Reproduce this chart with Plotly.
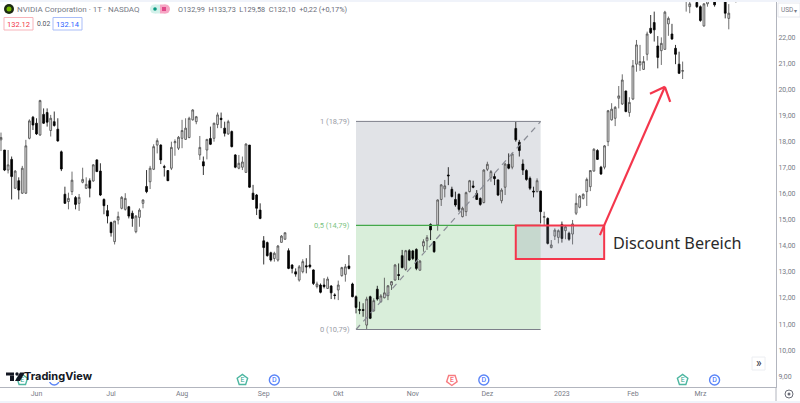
import plotly.graph_objects as go

# daily candles (index 0 = first visible bar, late May 2022)
opens = [18.08, 17.69, 16.92, 17.33, 16.22, 16.51, 16.03, 16.03, 18.14, 18.95,
         18.72, 18.27, 19.06, 19.13, 18.44, 18.78, 18.49, 17.62, 15.99, 15.71,
         16.09, 15.86, 15.64, 16.45, 16.22, 16.51, 16.5, 17.31, 16.88, 15.79,
         15.36, 14.9, 14.17, 15.0, 15.45, 15.41, 15.51, 15.26, 14.55, 15.1,
         15.64, 16.29, 16.47, 16.95, 17.88, 17.88, 17.05, 16.9, 16.99, 17.97,
         17.76, 18.14, 18.1, 18.17, 18.85, 18.78, 17.5, 17.24, 17.69, 18.13,
         18.14, 18.67, 18.91, 18.53, 18.31, 18.4, 17.5, 16.99, 17.03, 16.83,
         17.88, 16.03, 15.96, 15.38, 14.2, 14.13, 13.74, 13.52, 13.46, 14.14,
         14.26, 13.82, 13.27, 13.01, 12.69, 13.01, 13.24, 13.27, 13.08, 12.44,
         12.5, 12.5, 12.37, 12.46, 12.12, 12.31, 12.86, 12.91, 13.23, 12.54,
         12.05, 11.56, 11.56, 10.96, 12.05, 11.51, 12.34, 11.86, 12.01, 12.09,
         12.5, 12.69, 12.9, 13.63, 13.1, 13.82, 13.81, 13.87, 13.07, 14.0,
         14.2, 14.83, 14.17, 14.81, 15.79, 16.2, 16.73, 16.18, 15.79, 15.99,
         15.13, 15.32, 16.09, 16.31, 16.02, 15.83, 15.67, 16.95, 16.63, 16.67,
         16.54, 15.74, 16.26, 17.14, 17.03, 18.52, 17.99, 17.15, 16.9, 16.6,
         16.11, 16.09, 16.11, 15.1, 15.06, 13.94, 14.38, 14.33, 14.83, 14.59,
         14.49, 14.46, 15.26, 15.49, 15.83, 16.09, 16.28, 16.88, 17.67, 17.03,
         17.03, 18.01, 18.85, 18.91, 19.68, 19.46, 19.96, 19.13, 19.65, 20.99,
         20.96, 20.79, 21.37, 22.37, 22.59, 21.69, 21.51, 21.56, 22.54, 22.15,
         21.6, 20.99, 20.72, 23.6, 23.2, 23.7, 23.36, 23.2, 22.46, 23.31,
         24.0, 23.7, 23.6, 23.42, 23.4, 22.75, 23.7, 23.55]
highs = [18.36, 17.69, 17.69, 17.44, 16.92, 16.64, 17.08, 18.08, 18.87, 19.0,
         18.91, 19.62, 19.29, 19.29, 19.04, 19.17, 18.91, 17.67, 16.28, 16.05,
         16.86, 15.92, 16.0, 17.01, 16.64, 16.6, 17.15, 17.33, 17.18, 15.83,
         15.58, 14.94, 14.96, 15.32, 15.92, 16.03, 15.54, 15.36, 15.19, 15.45,
         15.79, 16.92, 17.08, 17.91, 18.14, 17.91, 17.12, 16.92, 18.01, 18.1,
         18.23, 18.85, 18.91, 18.97, 19.26, 19.0, 18.23, 17.44, 18.1, 18.59,
         18.74, 19.13, 19.13, 18.78, 18.85, 18.44, 17.53, 17.5, 17.44, 17.95,
         17.88, 16.35, 16.0, 15.64, 14.38, 14.17, 13.78, 13.78, 14.04, 14.42,
         14.52, 13.91, 13.3, 13.14, 13.27, 13.49, 13.53, 14.04, 13.1, 12.63,
         12.56, 12.76, 12.82, 12.5, 12.18, 12.67, 13.2, 13.31, 13.65, 12.59,
         12.1, 11.86, 11.8, 12.05, 12.09, 11.99, 12.47, 12.15, 12.78, 12.5,
         12.65, 13.31, 13.33, 13.85, 13.85, 13.88, 13.85, 13.91, 13.46, 14.26,
         14.42, 14.87, 14.19, 15.79, 16.38, 16.54, 17.03, 16.28, 16.09, 16.02,
         15.51, 16.09, 16.54, 16.51, 16.15, 15.87, 16.95, 17.24, 16.92, 16.79,
         16.56, 16.22, 17.2, 17.56, 17.59, 18.78, 18.08, 17.33, 16.95, 16.67,
         16.28, 16.6, 16.13, 15.32, 15.1, 14.23, 14.68, 14.64, 14.94, 14.81,
         14.55, 15.0, 16.02, 15.96, 16.02, 16.63, 16.92, 17.76, 17.72, 17.08,
         17.88, 19.23, 19.49, 19.38, 20.15, 20.6, 19.97, 19.72, 21.15, 21.92,
         21.73, 21.3, 22.24, 22.88, 23.01, 22.07, 22.02, 23.04, 22.82, 22.54,
         21.73, 21.47, 21.09, 23.9, 23.5, 24.3, 23.6, 23.25, 23.33, 23.8,
         24.2, 23.9, 24.0, 23.8, 23.5, 23.3, 24.0, 23.9]
lows = [17.65, 16.88, 16.79, 15.79, 16.2, 15.79, 16.0, 16.0, 18.1, 18.46,
        18.27, 18.23, 18.69, 18.59, 18.21, 18.59, 18.01, 16.88, 15.62, 15.41,
        15.96, 15.41, 15.35, 16.41, 16.19, 15.87, 16.47, 16.85, 15.92, 15.22,
        14.87, 14.36, 14.06, 14.83, 15.41, 15.36, 15.06, 14.74, 14.49, 14.74,
        15.45, 16.03, 16.19, 16.92, 17.56, 17.15, 16.67, 16.5, 16.92, 17.47,
        17.69, 17.76, 18.08, 18.14, 18.82, 18.68, 17.31, 16.73, 17.33, 17.88,
        18.01, 18.53, 18.53, 18.21, 18.27, 17.79, 16.99, 16.95, 16.92, 16.82,
        16.24, 15.77, 15.19, 15.03, 13.29, 13.59, 13.4, 13.4, 13.4, 14.13,
        14.24, 13.11, 12.95, 12.82, 12.63, 12.95, 12.95, 13.14, 12.5, 12.37,
        12.18, 12.37, 12.35, 11.96, 11.95, 11.92, 12.82, 12.63, 13.1, 12.03,
        11.41, 11.38, 11.28, 10.81, 11.19, 11.47, 11.9, 11.82, 11.99, 11.92,
        12.31, 12.67, 12.69, 13.14, 13.05, 13.42, 13.46, 13.07, 13.05, 13.78,
        13.85, 14.23, 13.74, 14.59, 15.54, 15.87, 16.34, 15.87, 15.51, 15.32,
        15.1, 15.15, 16.06, 16.22, 15.77, 15.55, 15.64, 16.88, 16.47, 16.34,
        15.92, 15.64, 15.96, 16.95, 16.95, 18.01, 17.44, 16.73, 16.51, 16.15,
        15.87, 16.06, 14.87, 14.81, 14.06, 13.91, 14.23, 14.1, 14.13, 14.26,
        14.2, 14.06, 15.19, 15.45, 15.79, 15.54, 16.11, 16.86, 17.31, 16.73,
        16.95, 17.84, 18.82, 18.61, 19.29, 19.42, 19.14, 18.97, 19.61, 20.7,
        20.73, 20.77, 21.13, 22.15, 21.86, 20.83, 20.96, 21.54, 22.08, 21.92,
        20.99, 20.61, 20.42, 23.01, 22.95, 23.55, 23.15, 22.62, 22.43, 23.2,
        23.55, 23.2, 23.5, 23.38, 22.75, 22.33, 23.55, 23.36]
closes = [18.17, 16.92, 17.12, 16.67, 16.88, 16.15, 16.99, 17.85, 18.81, 18.65,
          18.31, 19.59, 18.72, 18.76, 18.91, 18.63, 18.04, 16.96, 15.64, 15.83,
          16.53, 15.6, 15.87, 16.56, 16.37, 16.22, 17.12, 16.86, 15.96, 15.55,
          15.15, 14.51, 14.96, 15.13, 15.87, 15.83, 15.15, 15.06, 15.15, 15.38,
          15.77, 16.09, 16.99, 17.82, 18.05, 17.31, 17.03, 16.51, 17.79, 18.01,
          18.18, 18.44, 18.53, 18.91, 19.23, 18.97, 17.79, 17.08, 18.1, 17.91,
          18.72, 19.04, 18.86, 18.33, 18.78, 17.82, 17.03, 17.18, 17.23, 17.92,
          16.26, 15.79, 15.45, 15.06, 13.94, 13.63, 13.46, 13.72, 14.0, 14.38,
          14.51, 13.14, 13.14, 12.92, 13.2, 13.4, 13.2, 13.2, 12.56, 12.54,
          12.22, 12.44, 12.73, 12.2, 12.1, 12.5, 13.17, 13.2, 13.14, 12.05,
          11.64, 11.53, 11.52, 11.96, 11.22, 11.9, 11.96, 12.08, 12.2, 12.47,
          12.63, 13.27, 12.87, 13.17, 13.82, 13.46, 13.52, 13.14, 13.42, 14.17,
          14.32, 14.62, 13.78, 15.77, 16.35, 16.31, 16.7, 15.9, 15.58, 15.41,
          15.45, 16.05, 16.51, 16.26, 15.79, 15.6, 16.92, 17.14, 16.86, 16.59,
          15.96, 16.15, 17.15, 16.99, 17.54, 18.08, 17.67, 16.92, 16.56, 16.22,
          16.08, 16.51, 15.32, 15.13, 14.1, 14.04, 14.61, 14.59, 14.29, 14.74,
          14.26, 14.85, 15.64, 15.92, 15.99, 16.56, 16.9, 17.72, 17.33, 16.77,
          17.85, 19.2, 19.26, 19.33, 19.77, 20.38, 19.17, 19.52, 20.93, 21.73,
          21.09, 21.09, 22.15, 22.2, 22.31, 21.25, 21.79, 22.99, 22.75, 21.96,
          21.37, 20.64, 20.74, 23.7, 23.31, 24.1, 23.2, 22.67, 23.31, 23.6,
          23.7, 23.27, 23.9, 23.6, 22.95, 22.95, 23.9, 23.7]
bars = list(range(len(opens)))

month_pos = [10, 31, 51, 74, 95, 116, 137, 158, 178, 197]
month_labels = ["Jun", "Jul", "Aug", "Sep", "Okt", "Nov", "Dez", "2023", "Feb", "Mrz"]
price_ticks = [9, 10, 11, 12, 13, 14, 15, 16, 17, 18, 19, 20, 21, 22]

# dividends / earnings flags along the bottom
earn_up_pos = [6, 68, 192]
earn_down_pos = [127]
div_pos = [15, 77, 136, 201]
flag_price = 8.85

# fib tool
fib_start, fib_end = 100, 152
fib_top, fib_mid, fib_low = 18.79, 14.79, 10.79

W, H = 800, 403
plot_right, plot_top, plot_bottom = 776, 2, 387


def px(x):
    return x / plot_right


def py(y):
    return (plot_bottom - y) / (plot_bottom - plot_top)


def box(x0, y0, x1, y1, **kw):
    return dict(type="rect", xref="paper", yref="paper", x0=px(x0), x1=px(x1),
                y0=py(y0), y1=py(y1), **kw)


def circle(x, y, r, **kw):
    return dict(type="circle", xref="paper", yref="paper", x0=px(x - r), x1=px(x + r),
                y0=py(y - r), y1=py(y + r), **kw)


def label(x, y, text, size=8, color="#787b86", anchor="left", family="Roboto"):
    return dict(x=px(x), y=py(y), xref="paper", yref="paper", text=text, showarrow=False,
                xanchor=anchor, yanchor="middle", font=dict(size=size, color=color, family=family))


nothing = dict(width=0)
red = "#f4364c"
shapes = [
    # fib areas + lines
    dict(type="rect", x0=fib_start, x1=fib_end, y0=fib_mid, y1=fib_top, layer="below",
         fillcolor="#e1e3e7", line=nothing),
    dict(type="rect", x0=fib_start, x1=fib_end, y0=fib_low, y1=fib_mid, layer="below",
         fillcolor="#d9eeda", line=nothing),
    dict(type="line", x0=fib_start, x1=fib_end, y0=fib_top, y1=fib_top, line=dict(color="#7d7f8a", width=1)),
    dict(type="line", x0=fib_start, x1=fib_end, y0=fib_mid, y1=fib_mid, line=dict(color="#43a84a", width=1.2)),
    dict(type="line", x0=fib_start, x1=fib_end, y0=fib_low, y1=fib_low, line=dict(color="#7d7f8a", width=1)),
    dict(type="line", x0=fib_start, x1=fib_end, y0=fib_low, y1=fib_top,
         line=dict(color="#8a8d96", width=1.2, dash="6px,5px")),
    # discount box and arrow
    dict(type="rect", x0=145, x1=169.9, y0=13.5, y1=14.79, fillcolor="rgba(130,140,165,0.22)",
         line=dict(color=red, width=2)),
    dict(type="line", x0=168.7, x1=187, y0=14.42, y1=20.12, line=dict(color=red, width=2.2)),
    dict(type="line", x0=182.8, x1=187, y0=19.85, y1=20.12, line=dict(color=red, width=2.2)),
    dict(type="line", x0=188.5, x1=187, y0=19.54, y1=20.12, line=dict(color=red, width=2.2)),
    # window frame
    box(0, 0, W, 2, fillcolor="#f0f3fa", line=nothing),
    box(0, 401, W, H, fillcolor="#f0f3fa", line=nothing),
    dict(type="line", xref="paper", yref="paper", x0=px(776), x1=px(776), y0=py(387), y1=py(401),
         line=dict(color="#b2b5be", width=1)),
    # header widgets
    circle(9, 9, 5, fillcolor="#1c2a12", line=nothing),
    circle(9, 9, 2.5, fillcolor="#76b900", line=nothing),
    circle(154.5, 9, 4.5, fillcolor="#d3f1ea", line=nothing),
    circle(165.5, 9, 4.5, fillcolor="#f6a6c4", line=nothing),
    box(155, 4.5, 160, 13.5, fillcolor="#d3f1ea", line=nothing),
    box(160, 4.5, 165.5, 13.5, fillcolor="#f6a6c4", line=nothing),
    circle(155, 9, 1.8, fillcolor="#089981", line=nothing),
    box(162, 7, 166, 11, fillcolor="#e0488a", line=nothing),
    box(4, 17.5, 33, 30, fillcolor="white", line=dict(color="#f7b3ba", width=1)),
    box(53, 17.5, 82, 30, fillcolor="white", line=dict(color="#a9bdf8", width=1)),
    # USD box, scroll button, settings wheel
    box(778, 3, 800, 17, fillcolor="white", line=dict(color="#e6e8ee", width=1)),
    box(752, 357, 765, 370, fillcolor="white", line=dict(color="#eceef2", width=1)),
    circle(789, 394, 4, fillcolor="white", line=dict(color="#6a6d78", width=1)),
    circle(789, 394, 1.5, fillcolor="#6a6d78", line=nothing),
    # TradingView logo
    box(30, 368, 92, 382, fillcolor="white", line=nothing),
    box(6, 372.5, 14, 375.5, fillcolor="#131722", line=nothing),
    box(10, 375.5, 14, 381, fillcolor="#131722", line=nothing),
    circle(17, 374, 1.7, fillcolor="#131722", line=nothing),
    dict(type="path", xref="paper", yref="paper", line=nothing, fillcolor="#131722",
         path=f"M {px(20)} {py(372.5)} L {px(25)} {py(372.5)} L {px(20)} {py(381)} L {px(15)} {py(381)} Z"),
]

annotations = [
    label(15, 9.5, "NVIDIA Corporation · 1T · NASDAQ", size=8),
    label(176, 9.5, "O132,99  H133,73  L129,58  C132,10  +0,22 (+0,17%)", size=7.3, color="#6a6d78"),
    label(18.5, 24, "132.12", size=7.5, color="#f23645", anchor="center"),
    label(43, 24, "0.02", size=6.8, color="#50535e", anchor="center"),
    label(67.5, 24, "132.14", size=7.5, color="#2962ff", anchor="center"),
    label(778.5, 10, "USD", size=6.5, color="#787b86"),
    label(796, 10, "▾", size=6, color="#787b86", anchor="center"),
    label(758.5, 363, "»", size=12, color="#2a2e39", anchor="center"),
    label(58, 376, "<b>TradingView</b>", size=11, color="#131722", anchor="center", family="Inter, Roboto"),
    label(611, 242.5, "Discount Bereich", size=16.2, color="#2a2a2a", family="Noto Sans"),
    dict(x=fib_start, y=fib_top, text="1 (18,79)", showarrow=False, xanchor="right", yanchor="middle", xshift=-4,
         font=dict(size=7.5, color="#9a9ca6", family="Roboto")),
    dict(x=fib_start, y=fib_mid, text="0,5 (14,79)", showarrow=False, xanchor="right", yanchor="middle", xshift=-4,
         font=dict(size=7.5, color="#7cc47f", family="Roboto")),
    dict(x=fib_start, y=fib_low, text="0 (10,79)", showarrow=False, xanchor="right", yanchor="middle", xshift=-4,
         font=dict(size=7.5, color="#9a9ca6", family="Roboto")),
]

fig = go.Figure()
fig.add_trace(go.Candlestick(
    x=bars, open=opens, high=highs, low=lows, close=closes,
    increasing=dict(line=dict(color="#4a4a4a", width=0.8), fillcolor="#e4e4e4"),
    decreasing=dict(line=dict(color="#000000", width=0.8), fillcolor="#000000"),
    whiskerwidth=0, showlegend=False,
))

flag_font = dict(size=7, family="Roboto")
fig.add_trace(go.Scatter(
    x=earn_up_pos, y=[flag_price] * len(earn_up_pos), mode="markers+text", text=["E"] * len(earn_up_pos),
    textfont=dict(color="#2aa58c", **flag_font), textposition="middle center", showlegend=False,
    marker=dict(symbol="pentagon", size=11, color="white", line=dict(color="#4db6a0", width=1.4)),
))
fig.add_trace(go.Scatter(
    x=earn_down_pos, y=[flag_price] * len(earn_down_pos), mode="markers+text", text=["E"] * len(earn_down_pos),
    textfont=dict(color="#f4364c", **flag_font), textposition="middle center", showlegend=False,
    marker=dict(symbol="pentagon", angle=180, size=11, color="white", line=dict(color="#f77c80", width=1.4)),
))
fig.add_trace(go.Scatter(
    x=div_pos, y=[flag_price] * len(div_pos), mode="markers+text", text=["D"] * len(div_pos),
    textfont=dict(color="#2962ff", **flag_font), textposition="middle center", showlegend=False,
    marker=dict(symbol="circle", size=10, color="white", line=dict(color="#5b85f7", width=1.4)),
))

fig.update_layout(
    width=W, height=H, autosize=False,
    margin=dict(l=0, r=W - plot_right, t=plot_top, b=H - plot_bottom, pad=0),
    paper_bgcolor="white", plot_bgcolor="white",
    separators=",.",
    boxgap=0.28,
    shapes=shapes, annotations=annotations,
    xaxis=dict(range=[-0.28, 218.3], rangeslider=dict(visible=False), showgrid=False, zeroline=False,
               tickmode="array", tickvals=month_pos, ticktext=month_labels, ticks="",
               showline=True, linecolor="#b2b5be", linewidth=1,
               tickfont=dict(size=7, color="#787b86", family="Roboto")),
    yaxis=dict(range=[8.58, 23.38], side="right", showgrid=False, zeroline=False,
               tickmode="array", tickvals=price_ticks, tickformat=".2f", ticks="",
               showline=True, linecolor="#b2b5be", linewidth=1,
               tickfont=dict(size=7, color="#787b86", family="Roboto")),
)
# browsers add an 8px body margin, the screenshot needs the chart flush with the window
fig.write_html("out.html", config=dict(displayModeBar=False),
               post_script="document.body.style.margin='0';document.documentElement.style.overflow='hidden';")
